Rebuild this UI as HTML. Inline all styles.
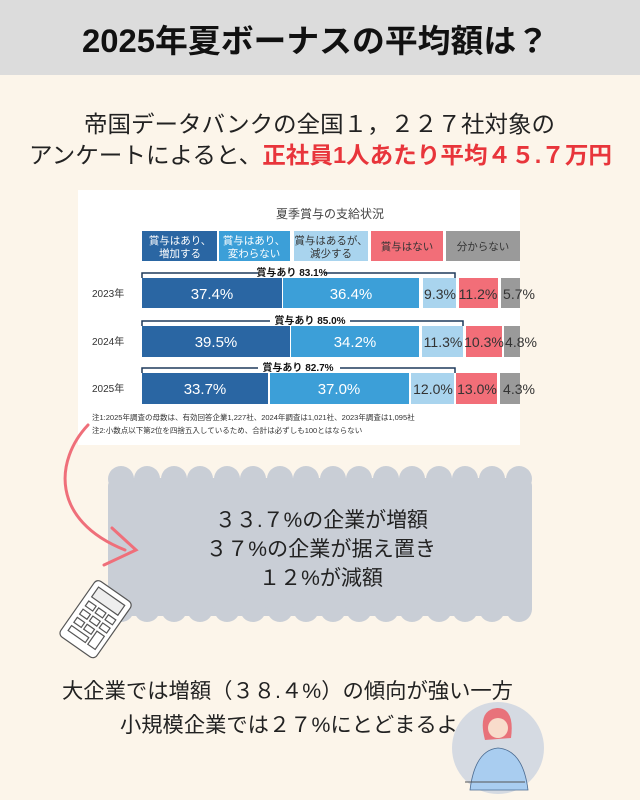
<!DOCTYPE html>
<html><head><meta charset="utf-8"><style>
html,body{margin:0;padding:0}
body{width:640px;height:800px;background:#fcf5ea;overflow:hidden;font-family:"Liberation Sans","Noto Sans CJK JP",sans-serif}
svg{display:block}
</style></head><body>
<svg width="640" height="800" xmlns="http://www.w3.org/2000/svg" font-family="Liberation Sans, Noto Sans CJK JP, sans-serif">
<rect x="0" y="0" width="640" height="800" fill="#fcf5ea"/>
<rect x="0" y="0" width="640" height="75" fill="#dcdcdc"/>
<text x="82" y="52" font-size="32" font-weight="bold" fill="#111" textLength="467" lengthAdjust="spacingAndGlyphs">2025年夏ボーナスの平均額は？</text>
<text x="84" y="132" font-size="23" fill="#222" textLength="471" lengthAdjust="spacingAndGlyphs">帝国データバンクの全国１，２２７社対象の</text>
<text x="29" y="163" font-size="23" fill="#222" textLength="583" lengthAdjust="spacingAndGlyphs">アンケートによると、<tspan fill="#e8353b" font-weight="bold">正社員1人あたり平均４５.７万円</tspan></text>

<!-- chart panel -->
<rect x="78" y="190" width="442" height="255" fill="#ffffff"/>
<text x="330" y="218" font-size="12" text-anchor="middle" fill="#444">夏季賞与の支給状況</text>
<g font-size="10.5" text-anchor="middle">
<rect x="142" y="231" width="75" height="30" fill="#2a66a3"/>
<text x="180" y="244" fill="#fff">賞与はあり、</text><text x="180" y="257" fill="#fff">増加する</text>
<rect x="219" y="231" width="71" height="30" fill="#3c9fd8"/>
<text x="254" y="244" fill="#fff">賞与はあり、</text><text x="254" y="257" fill="#fff">変わらない</text>
<rect x="294" y="231" width="74" height="30" fill="#a9d4ee"/>
<text x="331" y="244" fill="#333">賞与はあるが、</text><text x="331" y="257" fill="#333">減少する</text>
<rect x="371" y="231" width="72" height="30" fill="#f26e78"/>
<text x="407" y="250" fill="#333">賞与はない</text>
<rect x="446" y="231" width="74" height="30" fill="#9a9a9a"/>
<text x="483" y="250" fill="#333">分からない</text>
</g>
<g font-size="10" fill="#333"><text x="92" y="297">2023年</text><text x="92" y="345">2024年</text><text x="92" y="392">2025年</text></g>
<g stroke="#1e3a5c" stroke-width="1.5" fill="none">
<path d="M142 278 V273 H258 M325 273 H455 V278"/>
<path d="M142 326 V321 H270 M350 321 H463 V326"/>
<path d="M142 373 V368 H258 M340 368 H455 V373"/>
</g>
<g font-size="10" font-weight="bold" fill="#111" text-anchor="middle">
<text x="292" y="276">賞与あり 83.1%</text>
<text x="310" y="324">賞与あり 85.0%</text>
<text x="298" y="371">賞与あり 82.7%</text>
</g>
<g font-size="15" text-anchor="middle">
<rect x="142" y="278" width="140" height="30" fill="#2a66a3"/><text x="212" y="299" fill="#fff">37.4%</text>
<rect x="283" y="278" width="136" height="30" fill="#3c9fd8"/><text x="351" y="299" fill="#fff">36.4%</text>
<rect x="423" y="278" width="33" height="30" fill="#a9d4ee"/><text x="440" y="299" fill="#333" font-size="14">9.3%</text>
<rect x="459" y="278" width="39" height="30" fill="#f26e78"/><text x="478" y="299" fill="#333" font-size="14">11.2%</text>
<rect x="501" y="278" width="19" height="30" fill="#9a9a9a"/><text x="519" y="299" fill="#333" font-size="14">5.7%</text>

<rect x="142" y="326" width="148" height="31" fill="#2a66a3"/><text x="216" y="347" fill="#fff">39.5%</text>
<rect x="291" y="326" width="128" height="31" fill="#3c9fd8"/><text x="355" y="347" fill="#fff">34.2%</text>
<rect x="422" y="326" width="41" height="31" fill="#a9d4ee"/><text x="443" y="347" fill="#333" font-size="14">11.3%</text>
<rect x="466" y="326" width="36" height="31" fill="#f26e78"/><text x="484" y="347" fill="#333" font-size="14">10.3%</text>
<rect x="504" y="326" width="16" height="31" fill="#9a9a9a"/><text x="521" y="347" fill="#333" font-size="14">4.8%</text>

<rect x="142" y="373" width="126" height="31" fill="#2a66a3"/><text x="205" y="394" fill="#fff">33.7%</text>
<rect x="270" y="373" width="139" height="31" fill="#3c9fd8"/><text x="339" y="394" fill="#fff">37.0%</text>
<rect x="411" y="373" width="43" height="31" fill="#a9d4ee"/><text x="433" y="394" fill="#333" font-size="14">12.0%</text>
<rect x="456" y="373" width="41" height="31" fill="#f26e78"/><text x="477" y="394" fill="#333" font-size="14">13.0%</text>
<rect x="500" y="373" width="20" height="31" fill="#9a9a9a"/><text x="519" y="394" fill="#333" font-size="14">4.3%</text>
</g>
<g font-size="7.5" fill="#333">
<text x="92" y="420">注1:2025年調査の母数は、有効回答企業1,227社、2024年調査は1,021社、2023年調査は1,095社</text>
<text x="92" y="433">注2:小数点以下第2位を四捨五入しているため、合計は必ずしも100とはならない</text>
</g>

<g fill="#c9ced6">
<rect x="108" y="478" width="424" height="138" rx="8"/>
<g id="sc">
<circle cx="121" cy="479" r="13"/><circle cx="147" cy="479" r="13"/><circle cx="174" cy="479" r="13"/><circle cx="200" cy="479" r="13"/><circle cx="227" cy="479" r="13"/><circle cx="253" cy="479" r="13"/><circle cx="280" cy="479" r="13"/><circle cx="306" cy="479" r="13"/><circle cx="333" cy="479" r="13"/><circle cx="359" cy="479" r="13"/><circle cx="386" cy="479" r="13"/><circle cx="412" cy="479" r="13"/><circle cx="439" cy="479" r="13"/><circle cx="465" cy="479" r="13"/><circle cx="492" cy="479" r="13"/><circle cx="519" cy="479" r="13"/>
</g>
<use href="#sc" y="130"/>
</g>
<g font-size="21" fill="#222">
<text x="215" y="527" textLength="213" lengthAdjust="spacingAndGlyphs">３３.７%の企業が増額</text>
<text x="206" y="556" textLength="230" lengthAdjust="spacingAndGlyphs">３７%の企業が据え置き</text>
<text x="259" y="585" textLength="124" lengthAdjust="spacingAndGlyphs">１２%が減額</text>
</g>
<path d="M88 425 C55 460 50 520 125 550" stroke="#ef6f7a" stroke-width="3" fill="none" stroke-linecap="round"/>
<path d="M112 528 L136 550 L104 565" stroke="#ef6f7a" stroke-width="3" fill="none" stroke-linecap="round"/>
<g transform="translate(95,620) rotate(35)" stroke="#555" stroke-width="1.2" fill="#fff">
<rect x="-22" y="-35" width="44" height="68" rx="5"/>
<rect x="-16" y="-29" width="32" height="12" fill="#eee"/>
<rect x="-16" y="-12" width="9" height="6"/><rect x="-4" y="-12" width="9" height="6"/><rect x="8" y="-12" width="9" height="6"/>
<rect x="-16" y="-2" width="9" height="6"/><rect x="-4" y="-2" width="9" height="6"/><rect x="8" y="-2" width="9" height="6"/>
<rect x="-16" y="8" width="9" height="6"/><rect x="-4" y="8" width="9" height="6"/><rect x="8" y="8" width="9" height="16"/>
<rect x="-16" y="18" width="21" height="6"/>
</g>
<g font-size="21" fill="#222">
<text x="62" y="698" textLength="451" lengthAdjust="spacingAndGlyphs">大企業では増額（３８.４%）の傾向が強い一方</text>
<text x="120" y="732" textLength="338" lengthAdjust="spacingAndGlyphs">小規模企業では２７%にとどまるよ</text>
</g>
<circle cx="498" cy="748" r="46" fill="#d5dae2"/>
<path d="M485 740 q-8 -30 12 -32 q18 0 14 30 z" fill="#e8727a"/>
<circle cx="498" cy="728" r="10" fill="#f8dccb"/>
<path d="M470 790 q5 -40 28 -42 q25 2 30 42 z" fill="#a9cdf0" stroke="#4a6a90" stroke-width="0.8"/>
<path d="M465 782 h60" stroke="#555" stroke-width="1"/>
</svg>
</body></html>
